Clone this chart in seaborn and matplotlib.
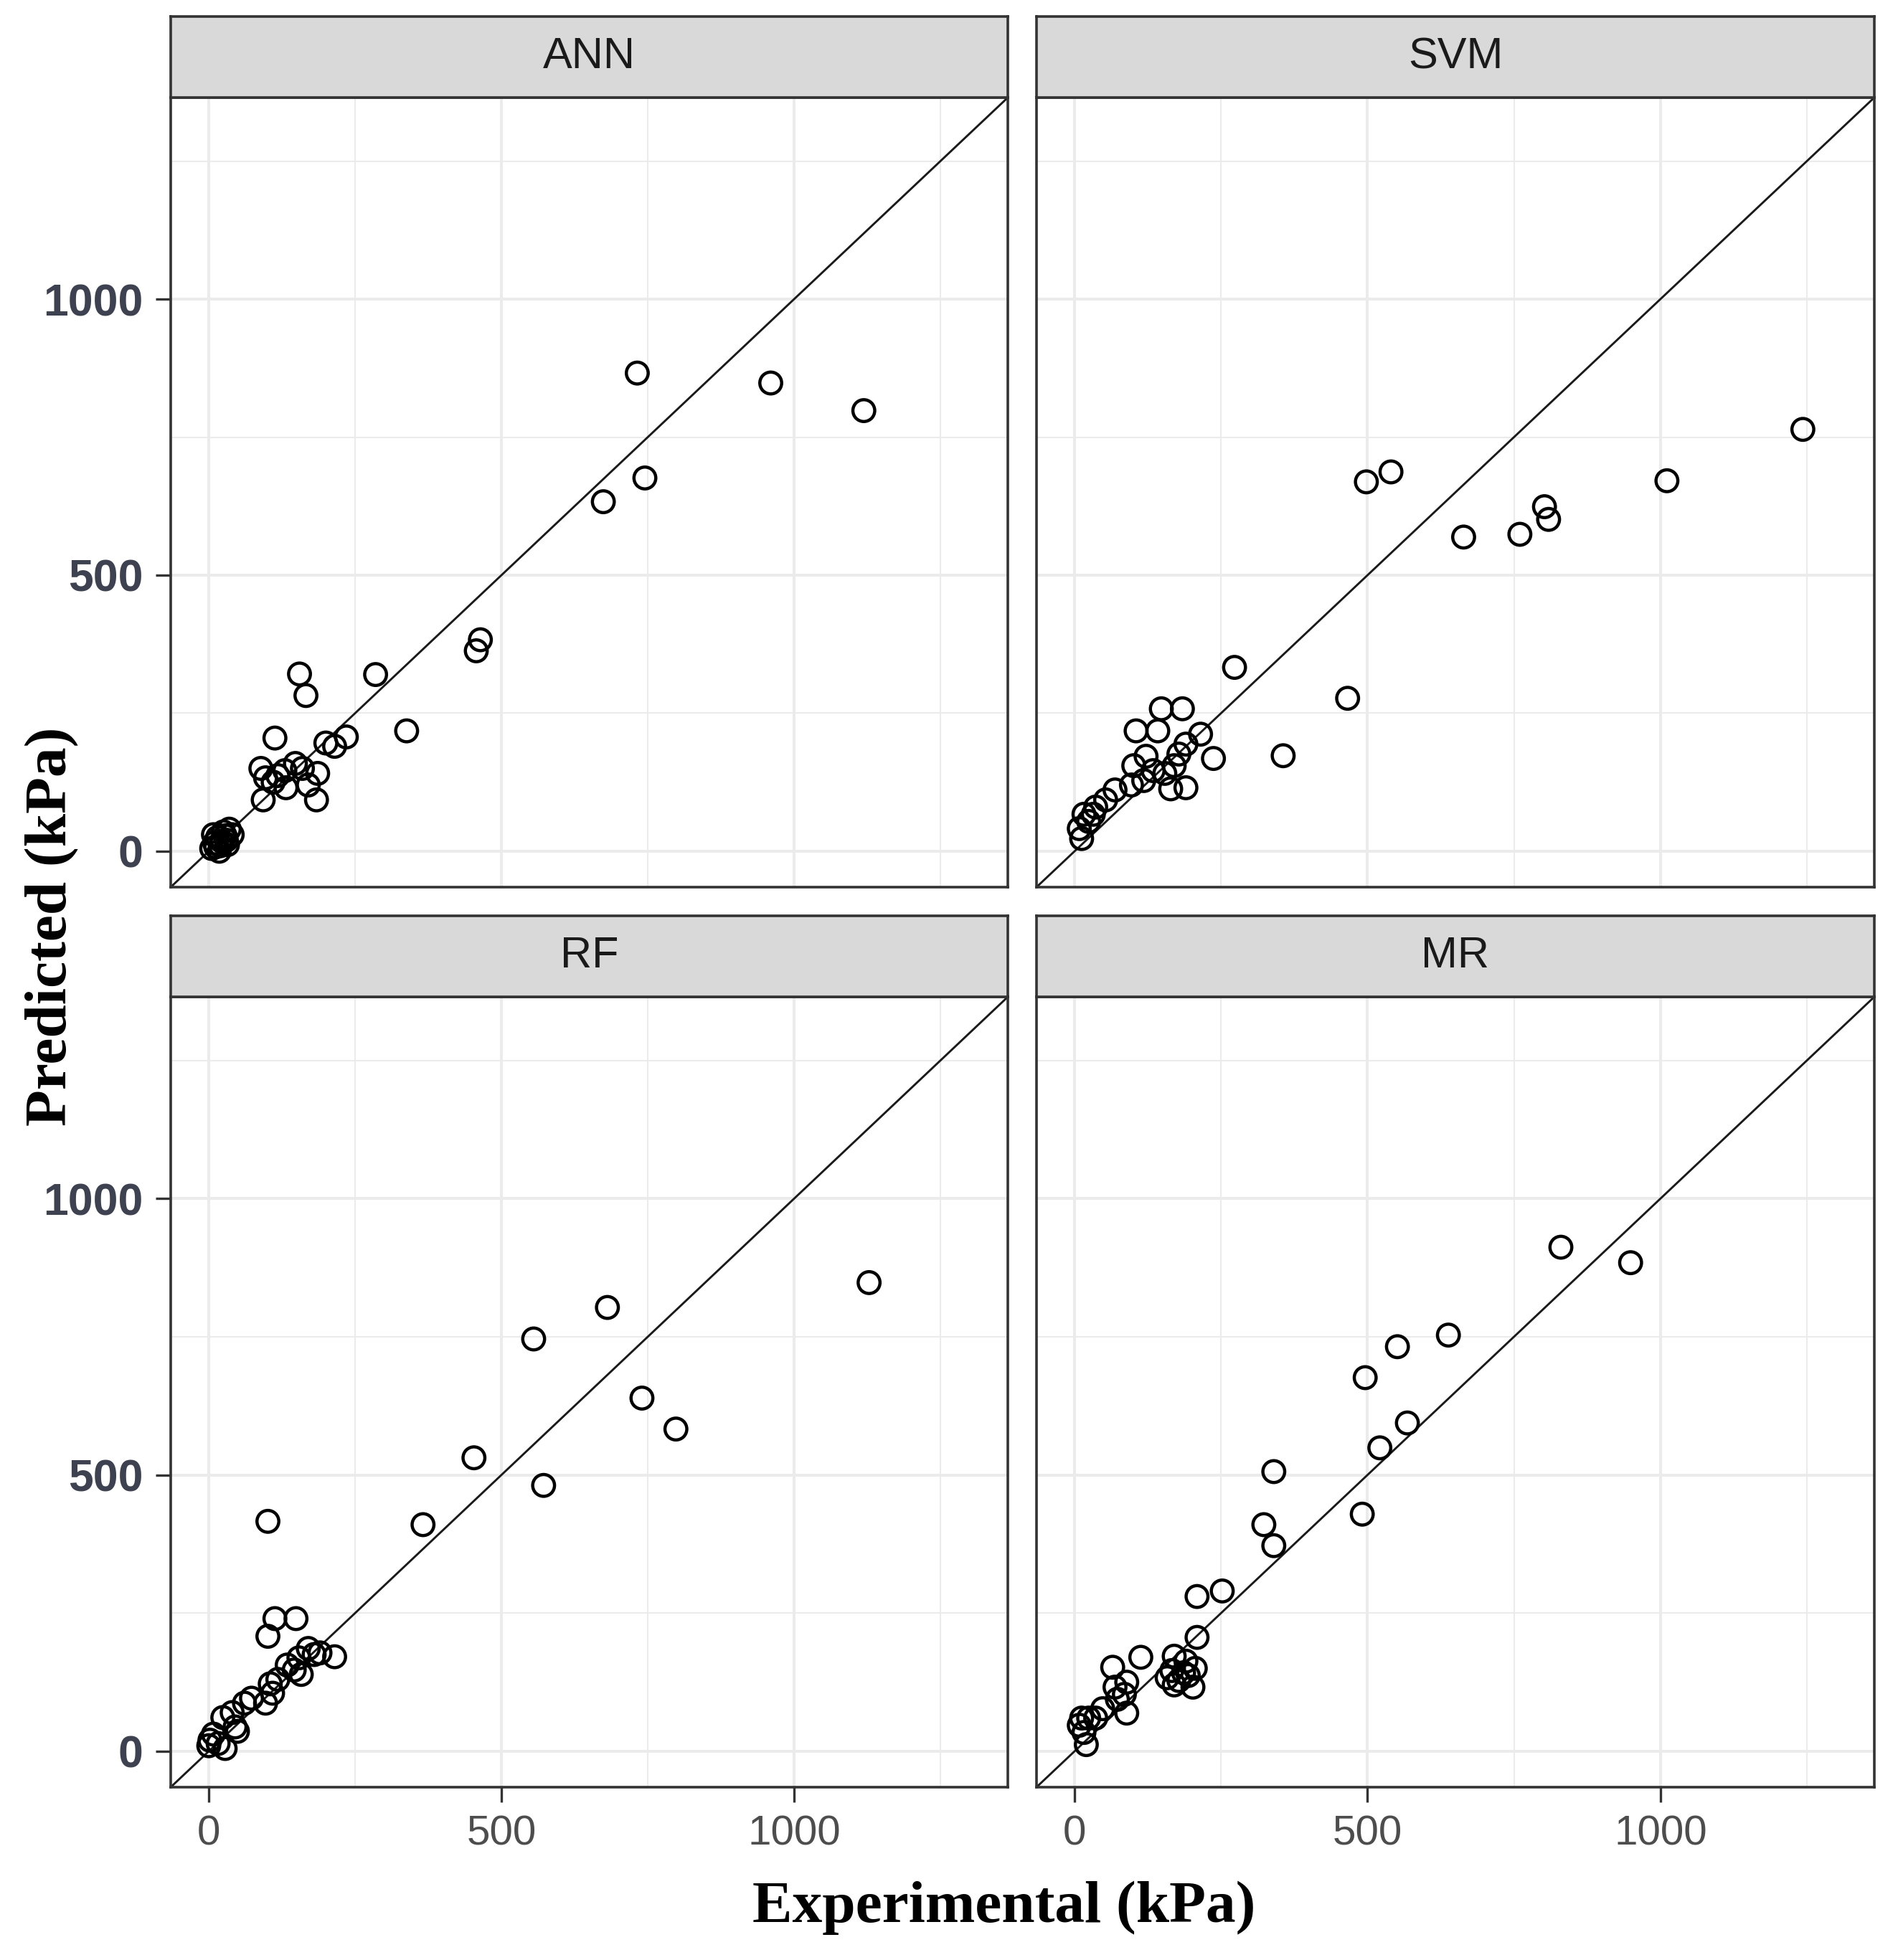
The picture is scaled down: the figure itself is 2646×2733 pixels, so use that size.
import numpy as np
import pandas as pd
import matplotlib
matplotlib.use("Agg")
import matplotlib.pyplot as plt
import seaborn as sns
from matplotlib import font_manager
from matplotlib.ticker import MultipleLocator

# ---------------- data ----------------
models = ["ANN", "SVM", "RF", "MR"]

ann_exp = [732, 960, 1119, 745, 674, 464, 457, 285, 155, 166, 338, 113, 235, 215, 200,
           89, 148, 186, 170, 184, 132, 93, 97, 118, 130, 160, 110,
           5, 10, 15, 20, 25, 30, 35, 40, 18, 8, 12, 22, 28, 32]
ann_pred = [866, 848, 798, 676, 633, 383, 363, 320, 321, 282, 218, 205, 207, 190, 196,
            150, 159, 141, 120, 93, 115, 93, 133, 137, 146, 150, 125,
            5, 15, 25, 10, 35, 20, 40, 30, 0, 30, 8, 18, 28, 12]

svm_exp = [498, 540, 664, 760, 802, 809, 1011, 1243, 466, 356, 273, 148, 184, 105, 142,
           215, 237, 190, 164, 190, 178, 170, 154, 122, 101, 134, 97, 118, 69, 53,
           36, 16, 8, 12, 24, 32]
svm_pred = [669, 687, 569, 574, 624, 601, 671, 764, 277, 173, 333, 258, 258, 218, 218,
            212, 168, 115, 113, 194, 176, 155, 141, 172, 155, 146, 120, 128, 111, 93,
            80, 67, 41, 23, 54, 67]

rf_exp = [1128, 681, 555, 740, 798, 453, 572, 366, 101, 113, 149, 101, 215, 190, 170,
          154, 146, 158, 134, 118, 109, 97, 105, 73, 61, 40, 24, 45, 49, 8, 0, 16, 28, 2, 180]
rf_pred = [848, 803, 746, 639, 583, 531, 481, 410, 416, 240, 240, 208, 171, 178, 186,
           169, 147, 139, 156, 130, 105, 87, 122, 96, 87, 70, 61, 44, 36, 31, 10, 14, 5, 20, 175]

mr_exp = [830, 949, 638, 551, 496, 568, 521, 491, 340, 323, 340, 252, 209, 209, 113,
          65, 170, 190, 166, 186, 206, 170, 202, 178, 194, 158, 89, 85, 89, 73, 69,
          48, 24, 8, 36, 12, 16, 20]
mr_pred = [912, 884, 753, 732, 676, 594, 549, 429, 506, 410, 372, 290, 280, 206, 170,
           152, 172, 163, 146, 142, 150, 120, 116, 128, 137, 133, 125, 103, 69, 94, 116,
           77, 60, 47, 60, 60, 34, 12]

tick_values = [0, 500, 1000]
tick_labels = ["0", "500", "1000"]

df = pd.concat([
    pd.DataFrame({"model": "ANN", "Experimental": ann_exp, "Predicted": ann_pred}),
    pd.DataFrame({"model": "SVM", "Experimental": svm_exp, "Predicted": svm_pred}),
    pd.DataFrame({"model": "RF", "Experimental": rf_exp, "Predicted": rf_pred}),
    pd.DataFrame({"model": "MR", "Experimental": mr_exp, "Predicted": mr_pred}),
], ignore_index=True)

# ---------------- style ----------------
sns.set_theme(style="white")


def has_font(name):
    try:
        font_manager.findfont(font_manager.FontProperties(family=name),
                              fallback_to_default=False)
        return True
    except Exception:
        return False


sans = "Liberation Sans" if has_font("Liberation Sans") else "DejaVu Sans"
narrow = "Liberation Sans Narrow" if has_font("Liberation Sans Narrow") else sans
serif = "Liberation Serif" if has_font("Liberation Serif") else "DejaVu Serif"
plt.rcParams["font.family"] = [sans, "DejaVu Sans"]

W, H = 2646, 2733
fig = plt.figure(figsize=(W / 100, H / 100), dpi=100)
fig.patch.set_facecolor("white")

cols = [(238, 1405), (1445, 2613)]
rows = [(23, 136, 1237), (1277, 1390, 2492)]  # strip top, panel top, panel bottom

lim = (-65, 1365)
border = "#333333"

for i, m in enumerate(models):
    r, c = divmod(i, 2)
    L, R = cols[c]
    st, pt, pb = rows[r]
    ax = fig.add_axes([L / W, 1 - pb / H, (R - L) / W, (pb - pt) / H])
    sub = df[df["model"] == m]
    ax.set_axisbelow(True)
    sns.scatterplot(data=sub, x="Experimental", y="Predicted", ax=ax,
                    marker="o", s=480, facecolors="none", edgecolors="black",
                    linewidth=3.2, zorder=3, legend=False)
    ax.axline((0, 0), slope=1, color="#1a1a1a", lw=2.1, zorder=2)
    ax.set_xlim(lim)
    ax.set_ylim(lim)
    ax.set_xticks(tick_values)
    ax.set_yticks(tick_values)
    ax.set_xticklabels(tick_labels)
    ax.set_yticklabels(tick_labels)
    ax.xaxis.set_minor_locator(MultipleLocator(250))
    ax.yaxis.set_minor_locator(MultipleLocator(250))
    ax.grid(which="major", color="#EBEBEB", lw=2.9)
    ax.grid(which="minor", color="#EBEBEB", lw=1.5)
    ax.set_xlabel("")
    ax.set_ylabel("")
    for sp in ax.spines.values():
        sp.set_color(border)
        sp.set_linewidth(2.6)
    ax.tick_params(which="minor", length=0)
    ax.tick_params(which="major", length=15, width=2.4, color=border, pad=13)
    ax.tick_params(axis="x", bottom=(r == 1), labelbottom=(r == 1),
                   labelsize=42, labelcolor="#4D4D4D")
    ax.tick_params(axis="y", left=(c == 0), labelleft=(c == 0),
                   labelsize=45, labelcolor="#3E4250")
    for t in ax.get_yticklabels():
        t.set_fontweight("bold")
        t.set_fontfamily([sans, "DejaVu Sans"])
    for t in ax.get_xticklabels():
        t.set_fontfamily([narrow, "DejaVu Sans"])

    # facet strip
    sax = fig.add_axes([L / W, 1 - pt / H, (R - L) / W, (pt - st) / H])
    sax.set_facecolor("#D9D9D9")
    sax.set_xticks([])
    sax.set_yticks([])
    for sp in sax.spines.values():
        sp.set_color(border)
        sp.set_linewidth(2.6)
    sax.text(0.5, 0.5, m, ha="center", va="center", fontsize=44,
             color="#1A1A1A", family=[narrow, "DejaVu Sans"],
             transform=sax.transAxes)

fig.text(1400 / W, 1 - 2660 / H, "Experimental (kPa)", ha="center", va="center",
         fontsize=60, fontweight="bold", family=[serif, "DejaVu Serif"], color="black")
fig.text(73 / W, 1 - 1292 / H, "Predicted (kPa)", ha="center", va="center",
         rotation=90, fontsize=60, fontweight="bold", family=[serif, "DejaVu Serif"],
         color="black")

fig.savefig("out.png", dpi=100, facecolor="white")
